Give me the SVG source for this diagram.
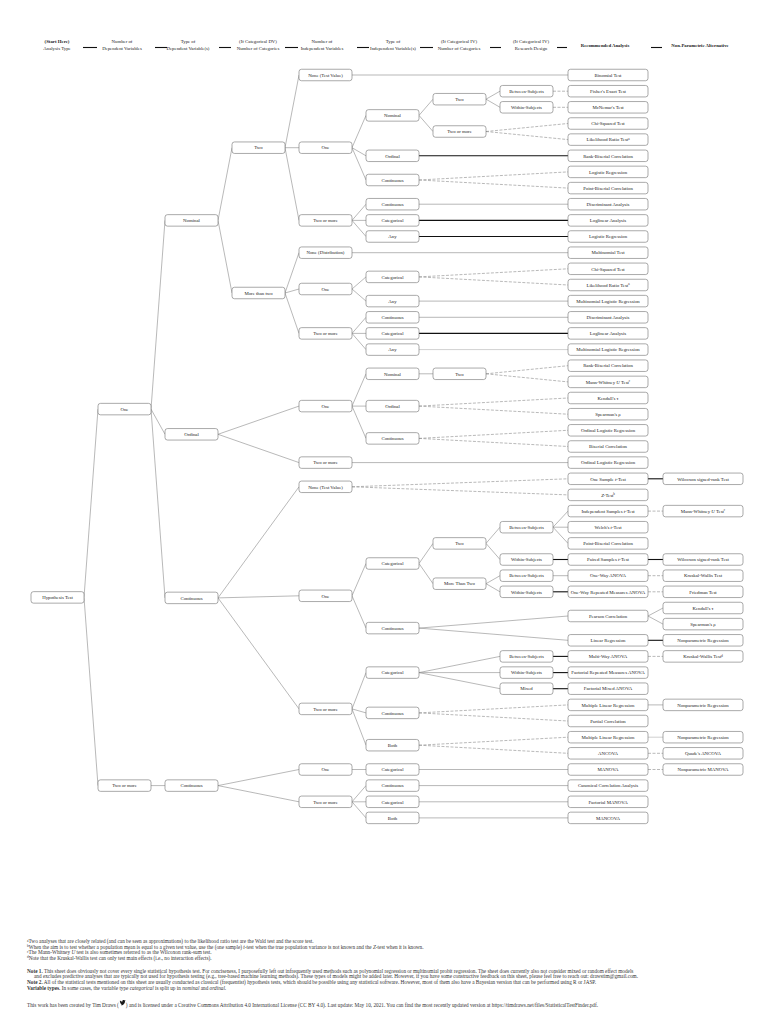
<svg xmlns="http://www.w3.org/2000/svg" width="768" height="1024" viewBox="0 0 768 1024">
<style>
.n text{font-family:"Liberation Serif","Times New Roman",serif;font-size:4.8px;fill:#222;text-anchor:middle}
.h text{font-family:"Liberation Serif","Times New Roman",serif;font-size:4.8px;fill:#222;text-anchor:middle}
.h line{stroke:#111;stroke-width:1.1}
.t{stroke:#8a8a8a;stroke-width:0.6;fill:none}
.g{stroke:#9a9a9a;stroke-width:0.7}
.lg{stroke:#c4c4c4;stroke-width:0.8}
.d{stroke:#8a8a8a;stroke-width:0.6;stroke-dasharray:3 1.5}
.k{stroke:#111;stroke-width:1.1}
.f text{font-family:"Liberation Serif","Times New Roman",serif;font-size:5.25px;fill:#333}
.b{font-weight:bold}
.i{font-style:italic}
</style>
<defs>
<rect id="bx" y="-5.75" width="53" height="11.5" rx="2.5" fill="#fff" stroke="#707070" stroke-width="0.6"/>
<rect id="bw" y="-5.75" width="80" height="11.5" rx="2.5" fill="#fff" stroke="#707070" stroke-width="0.6"/>
</defs>

<g id="header" class="h">
<text x="57" y="43"><tspan class="b">(Start Here)</tspan></text><text x="57" y="50">Analysis Type</text>
<text x="122" y="43">Number of</text><text x="122" y="50">Dependent Variables</text>
<text x="188" y="43">Type of</text><text x="188" y="50">Dependent Variable(s)</text>
<text x="258" y="43">(If Categorical DV)</text><text x="258" y="50">Number of Categories</text>
<text x="322" y="43">Number of</text><text x="322" y="50">Independent Variables</text>
<text x="393" y="43">Type of</text><text x="393" y="50">Independent Variable(s)</text>
<text x="459" y="43">(If Categorical IV)</text><text x="459" y="50">Number of Categories</text>
<text x="531" y="43">(If Categorical IV)</text><text x="531" y="50">Research Design</text>
<text x="605" y="47" class="b">Recommended Analysis</text>
<text x="700" y="47" class="b">Non-Parametric Alternative</text>
<line x1="83" y1="47.5" x2="97" y2="47.5"/><line x1="155" y1="47.5" x2="167" y2="47.5"/>
<line x1="219" y1="47.5" x2="231" y2="47.5"/><line x1="285" y1="47.5" x2="298" y2="47.5"/>
<line x1="357" y1="47.5" x2="369" y2="47.5"/><line x1="420" y1="47.5" x2="433" y2="47.5"/>
<line x1="490" y1="47.5" x2="501" y2="47.5"/><line x1="557" y1="47.5" x2="567" y2="47.5"/>
<line x1="651" y1="47.5" x2="662" y2="47.5"/>
</g>

<g id="connectors">
<line class="t" x1="84" y1="597.4" x2="98" y2="409.1"/>
<line class="t" x1="84" y1="597.4" x2="98" y2="785.6"/>
<line class="t" x1="151" y1="409.1" x2="165" y2="220.4"/>
<line class="t" x1="151" y1="409.1" x2="165" y2="434.3"/>
<line class="t" x1="151" y1="409.1" x2="165" y2="597.9"/>
<line class="t" x1="151" y1="785.6" x2="165" y2="785.6"/>
<line class="t" x1="218" y1="220.4" x2="232" y2="147.7"/>
<line class="t" x1="218" y1="220.4" x2="232" y2="293"/>
<line class="t" x1="218" y1="434.3" x2="299" y2="406.1"/>
<line class="t" x1="218" y1="434.3" x2="299" y2="462.6"/>
<line class="t" x1="218" y1="597.9" x2="299" y2="486.8"/>
<line class="t" x1="218" y1="597.9" x2="299" y2="595.8"/>
<line class="t" x1="218" y1="597.9" x2="299" y2="708.9"/>
<line class="t" x1="218" y1="785.6" x2="299" y2="769.5"/>
<line class="t" x1="218" y1="785.6" x2="299" y2="801.8"/>
<line class="t" x1="285" y1="147.7" x2="299" y2="75"/>
<line class="t" x1="285" y1="147.7" x2="299" y2="147.7"/>
<line class="t" x1="285" y1="147.7" x2="299" y2="220.4"/>
<line class="t" x1="285" y1="293" x2="299" y2="252.7"/>
<line class="t" x1="285" y1="293" x2="299" y2="289"/>
<line class="t" x1="285" y1="293" x2="299" y2="333.4"/>
<line class="t" x1="352" y1="147.7" x2="366" y2="115.4"/>
<line class="t" x1="352" y1="147.7" x2="366" y2="155.8"/>
<line class="t" x1="352" y1="147.7" x2="366" y2="180"/>
<line class="t" x1="352" y1="220.4" x2="366" y2="204.2"/>
<line class="t" x1="352" y1="220.4" x2="366" y2="220.4"/>
<line class="t" x1="352" y1="220.4" x2="366" y2="236.5"/>
<line class="t" x1="352" y1="289" x2="366" y2="276.9"/>
<line class="t" x1="352" y1="289" x2="366" y2="301.1"/>
<line class="t" x1="352" y1="333.4" x2="366" y2="317.3"/>
<line class="t" x1="352" y1="333.4" x2="366" y2="333.4"/>
<line class="t" x1="352" y1="333.4" x2="366" y2="349.6"/>
<line class="t" x1="352" y1="406.1" x2="366" y2="373.8"/>
<line class="t" x1="352" y1="406.1" x2="366" y2="406.1"/>
<line class="t" x1="352" y1="406.1" x2="366" y2="438.4"/>
<line class="t" x1="352" y1="595.8" x2="366" y2="563.5"/>
<line class="t" x1="352" y1="595.8" x2="366" y2="628.1"/>
<line class="t" x1="352" y1="708.9" x2="366" y2="672.6"/>
<line class="t" x1="352" y1="708.9" x2="366" y2="712.9"/>
<line class="t" x1="352" y1="708.9" x2="366" y2="745.2"/>
<line class="t" x1="352" y1="769.5" x2="366" y2="769.5"/>
<line class="t" x1="352" y1="801.8" x2="366" y2="785.6"/>
<line class="t" x1="352" y1="801.8" x2="366" y2="801.8"/>
<line class="t" x1="352" y1="801.8" x2="366" y2="817.9"/>
<line class="t" x1="419" y1="115.4" x2="433" y2="99.2"/>
<line class="t" x1="419" y1="115.4" x2="433" y2="131.5"/>
<line class="t" x1="486" y1="99.2" x2="500" y2="91.2"/>
<line class="t" x1="486" y1="99.2" x2="500" y2="107.3"/>
<line class="t" x1="419" y1="373.8" x2="433" y2="373.8"/>
<line class="t" x1="419" y1="563.5" x2="433" y2="543.4"/>
<line class="t" x1="419" y1="563.5" x2="433" y2="583.7"/>
<line class="t" x1="486" y1="543.4" x2="500" y2="527.2"/>
<line class="t" x1="486" y1="543.4" x2="500" y2="559.5"/>
<line class="t" x1="486" y1="583.7" x2="500" y2="575.7"/>
<line class="t" x1="486" y1="583.7" x2="500" y2="591.8"/>
<line class="t" x1="419" y1="672.6" x2="500" y2="656.4"/>
<line class="t" x1="419" y1="672.6" x2="500" y2="672.6"/>
<line class="t" x1="419" y1="672.6" x2="500" y2="688.7"/>
<line class="g" x1="352" y1="75" x2="568" y2="75"/>
<line class="d" x1="553" y1="91.2" x2="568" y2="91.2"/>
<line class="d" x1="553" y1="107.3" x2="568" y2="107.3"/>
<line class="d" x1="486" y1="131.5" x2="568" y2="123.5"/>
<line class="d" x1="486" y1="131.5" x2="568" y2="139.6"/>
<line class="k" x1="419" y1="155.8" x2="568" y2="155.8"/>
<line class="d" x1="419" y1="180" x2="568" y2="171.9"/>
<line class="d" x1="419" y1="180" x2="568" y2="188.1"/>
<line class="g" x1="419" y1="204.2" x2="568" y2="204.2"/>
<line class="k" x1="419" y1="220.4" x2="568" y2="220.4"/>
<line class="k" x1="419" y1="236.5" x2="568" y2="236.5"/>
<line class="g" x1="352" y1="252.7" x2="568" y2="252.7"/>
<line class="d" x1="419" y1="276.9" x2="568" y2="268.8"/>
<line class="d" x1="419" y1="276.9" x2="568" y2="285"/>
<line class="g" x1="419" y1="301.1" x2="568" y2="301.1"/>
<line class="g" x1="419" y1="317.3" x2="568" y2="317.3"/>
<line class="k" x1="419" y1="333.4" x2="568" y2="333.4"/>
<line class="lg" x1="419" y1="349.6" x2="568" y2="349.6"/>
<line class="d" x1="486" y1="373.8" x2="568" y2="365.7"/>
<line class="d" x1="486" y1="373.8" x2="568" y2="381.9"/>
<line class="d" x1="419" y1="406.1" x2="568" y2="398"/>
<line class="d" x1="419" y1="406.1" x2="568" y2="414.2"/>
<line class="d" x1="419" y1="438.4" x2="568" y2="430.3"/>
<line class="d" x1="419" y1="438.4" x2="568" y2="446.5"/>
<line class="g" x1="352" y1="462.6" x2="568" y2="462.6"/>
<line class="d" x1="352" y1="486.8" x2="568" y2="478.8"/>
<line class="d" x1="352" y1="486.8" x2="568" y2="494.9"/>
<line class="t" x1="553" y1="527.2" x2="568" y2="511.1"/>
<line class="t" x1="553" y1="527.2" x2="568" y2="527.2"/>
<line class="t" x1="553" y1="527.2" x2="568" y2="543.4"/>
<line class="k" x1="553" y1="559.5" x2="568" y2="559.5"/>
<line class="g" x1="553" y1="575.7" x2="568" y2="575.7"/>
<line class="k" x1="553" y1="591.8" x2="568" y2="591.8"/>
<line class="t" x1="419" y1="628.1" x2="568" y2="616"/>
<line class="t" x1="419" y1="628.1" x2="568" y2="640.3"/>
<line class="k" x1="553" y1="656.4" x2="568" y2="656.4"/>
<line class="k" x1="553" y1="672.6" x2="568" y2="672.6"/>
<line class="k" x1="553" y1="688.7" x2="568" y2="688.7"/>
<line class="d" x1="419" y1="712.9" x2="568" y2="704.9"/>
<line class="d" x1="419" y1="712.9" x2="568" y2="721"/>
<line class="d" x1="419" y1="745.2" x2="568" y2="737.2"/>
<line class="d" x1="419" y1="745.2" x2="568" y2="753.3"/>
<line class="g" x1="419" y1="769.5" x2="568" y2="769.5"/>
<line class="g" x1="419" y1="785.6" x2="568" y2="785.6"/>
<line class="g" x1="419" y1="801.8" x2="568" y2="801.8"/>
<line class="g" x1="419" y1="817.9" x2="568" y2="817.9"/>
<line class="k" x1="648" y1="478.8" x2="663" y2="478.8"/>
<line class="d" x1="648" y1="511.1" x2="663" y2="511.1"/>
<line class="k" x1="648" y1="559.5" x2="663" y2="559.5"/>
<line class="d" x1="648" y1="575.7" x2="663" y2="575.7"/>
<line class="d" x1="648" y1="591.8" x2="663" y2="591.8"/>
<line class="t" x1="648" y1="616" x2="663" y2="608"/>
<line class="t" x1="648" y1="616" x2="663" y2="624.1"/>
<line class="k" x1="648" y1="640.3" x2="663" y2="640.3"/>
<line class="d" x1="648" y1="656.4" x2="663" y2="656.4"/>
<line class="g" x1="648" y1="704.9" x2="663" y2="704.9"/>
<line class="lg" x1="648" y1="737.2" x2="663" y2="737.2"/>
<line class="d" x1="648" y1="753.3" x2="663" y2="753.3"/>
<line class="d" x1="648" y1="769.5" x2="663" y2="769.5"/>
</g>

<g id="ht" class="n" transform="translate(31,597.4)"><use href="#bx"/><text x="26.5" y="1.7">Hypothesis Test</text></g>
<g id="dv_one" class="n" transform="translate(98,409.1)"><use href="#bx"/><text x="26.5" y="1.7">One</text></g>
<g id="dv_two" class="n" transform="translate(98,785.6)"><use href="#bx"/><text x="26.5" y="1.7">Two or more</text></g>
<g id="nom" class="n" transform="translate(165,220.4)"><use href="#bx"/><text x="26.5" y="1.7">Nominal</text></g>
<g id="ord" class="n" transform="translate(165,434.3)"><use href="#bx"/><text x="26.5" y="1.7">Ordinal</text></g>
<g id="con" class="n" transform="translate(165,597.9)"><use href="#bx"/><text x="26.5" y="1.7">Continuous</text></g>
<g id="con2" class="n" transform="translate(165,785.6)"><use href="#bx"/><text x="26.5" y="1.7">Continuous</text></g>
<g id="cat_two" class="n" transform="translate(232,147.7)"><use href="#bx"/><text x="26.5" y="1.7">Two</text></g>
<g id="cat_mtt" class="n" transform="translate(232,293)"><use href="#bx"/><text x="26.5" y="1.7">More than two</text></g>
<g id="a_none" class="n" transform="translate(299,75)"><use href="#bx"/><text x="26.5" y="1.7">None (Test Value)</text></g>
<g id="a_one" class="n" transform="translate(299,147.7)"><use href="#bx"/><text x="26.5" y="1.7">One</text></g>
<g id="a_tom" class="n" transform="translate(299,220.4)"><use href="#bx"/><text x="26.5" y="1.7">Two or more</text></g>
<g id="b_none" class="n" transform="translate(299,252.7)"><use href="#bx"/><text x="26.5" y="1.7">None (Distribution)</text></g>
<g id="b_one" class="n" transform="translate(299,289)"><use href="#bx"/><text x="26.5" y="1.7">One</text></g>
<g id="b_tom" class="n" transform="translate(299,333.4)"><use href="#bx"/><text x="26.5" y="1.7">Two or more</text></g>
<g id="c_one" class="n" transform="translate(299,406.1)"><use href="#bx"/><text x="26.5" y="1.7">One</text></g>
<g id="c_tom" class="n" transform="translate(299,462.6)"><use href="#bx"/><text x="26.5" y="1.7">Two or more</text></g>
<g id="d_none" class="n" transform="translate(299,486.8)"><use href="#bx"/><text x="26.5" y="1.7">None (Test Value)</text></g>
<g id="d_one" class="n" transform="translate(299,595.8)"><use href="#bx"/><text x="26.5" y="1.7">One</text></g>
<g id="d_tom" class="n" transform="translate(299,708.9)"><use href="#bx"/><text x="26.5" y="1.7">Two or more</text></g>
<g id="e_one" class="n" transform="translate(299,769.5)"><use href="#bx"/><text x="26.5" y="1.7">One</text></g>
<g id="e_tom" class="n" transform="translate(299,801.8)"><use href="#bx"/><text x="26.5" y="1.7">Two or more</text></g>
<g id="a_nom" class="n" transform="translate(366,115.4)"><use href="#bx"/><text x="26.5" y="1.7">Nominal</text></g>
<g id="a_ord" class="n" transform="translate(366,155.8)"><use href="#bx"/><text x="26.5" y="1.7">Ordinal</text></g>
<g id="a_con" class="n" transform="translate(366,180)"><use href="#bx"/><text x="26.5" y="1.7">Continuous</text></g>
<g id="a2_con" class="n" transform="translate(366,204.2)"><use href="#bx"/><text x="26.5" y="1.7">Continuous</text></g>
<g id="a2_cat" class="n" transform="translate(366,220.4)"><use href="#bx"/><text x="26.5" y="1.7">Categorical</text></g>
<g id="a2_any" class="n" transform="translate(366,236.5)"><use href="#bx"/><text x="26.5" y="1.7">Any</text></g>
<g id="b_cat" class="n" transform="translate(366,276.9)"><use href="#bx"/><text x="26.5" y="1.7">Categorical</text></g>
<g id="b_any" class="n" transform="translate(366,301.1)"><use href="#bx"/><text x="26.5" y="1.7">Any</text></g>
<g id="b2_con" class="n" transform="translate(366,317.3)"><use href="#bx"/><text x="26.5" y="1.7">Continuous</text></g>
<g id="b2_cat" class="n" transform="translate(366,333.4)"><use href="#bx"/><text x="26.5" y="1.7">Categorical</text></g>
<g id="b2_any" class="n" transform="translate(366,349.6)"><use href="#bx"/><text x="26.5" y="1.7">Any</text></g>
<g id="c_nom" class="n" transform="translate(366,373.8)"><use href="#bx"/><text x="26.5" y="1.7">Nominal</text></g>
<g id="c_ord" class="n" transform="translate(366,406.1)"><use href="#bx"/><text x="26.5" y="1.7">Ordinal</text></g>
<g id="c_con" class="n" transform="translate(366,438.4)"><use href="#bx"/><text x="26.5" y="1.7">Continuous</text></g>
<g id="d_cat" class="n" transform="translate(366,563.5)"><use href="#bx"/><text x="26.5" y="1.7">Categorical</text></g>
<g id="d_con" class="n" transform="translate(366,628.1)"><use href="#bx"/><text x="26.5" y="1.7">Continuous</text></g>
<g id="d2_cat" class="n" transform="translate(366,672.6)"><use href="#bx"/><text x="26.5" y="1.7">Categorical</text></g>
<g id="d2_con" class="n" transform="translate(366,712.9)"><use href="#bx"/><text x="26.5" y="1.7">Continuous</text></g>
<g id="d2_both" class="n" transform="translate(366,745.2)"><use href="#bx"/><text x="26.5" y="1.7">Both</text></g>
<g id="e_cat" class="n" transform="translate(366,769.5)"><use href="#bx"/><text x="26.5" y="1.7">Categorical</text></g>
<g id="e2_con" class="n" transform="translate(366,785.6)"><use href="#bx"/><text x="26.5" y="1.7">Continuous</text></g>
<g id="e2_cat" class="n" transform="translate(366,801.8)"><use href="#bx"/><text x="26.5" y="1.7">Categorical</text></g>
<g id="e2_both" class="n" transform="translate(366,817.9)"><use href="#bx"/><text x="26.5" y="1.7">Both</text></g>
<g id="a_two" class="n" transform="translate(433,99.2)"><use href="#bx"/><text x="26.5" y="1.7">Two</text></g>
<g id="a_tom6" class="n" transform="translate(433,131.5)"><use href="#bx"/><text x="26.5" y="1.7">Two or more</text></g>
<g id="c_two" class="n" transform="translate(433,373.8)"><use href="#bx"/><text x="26.5" y="1.7">Two</text></g>
<g id="d_two" class="n" transform="translate(433,543.4)"><use href="#bx"/><text x="26.5" y="1.7">Two</text></g>
<g id="d_mtt" class="n" transform="translate(433,583.7)"><use href="#bx"/><text x="26.5" y="1.7">More Than Two</text></g>
<g id="a_bs" class="n" transform="translate(500,91.2)"><use href="#bx"/><text x="26.5" y="1.7">Between-Subjects</text></g>
<g id="a_ws" class="n" transform="translate(500,107.3)"><use href="#bx"/><text x="26.5" y="1.7">Within-Subjects</text></g>
<g id="d_bs" class="n" transform="translate(500,527.2)"><use href="#bx"/><text x="26.5" y="1.7">Between-Subjects</text></g>
<g id="d_ws" class="n" transform="translate(500,559.5)"><use href="#bx"/><text x="26.5" y="1.7">Within-Subjects</text></g>
<g id="d_bs2" class="n" transform="translate(500,575.7)"><use href="#bx"/><text x="26.5" y="1.7">Between-Subjects</text></g>
<g id="d_ws2" class="n" transform="translate(500,591.8)"><use href="#bx"/><text x="26.5" y="1.7">Within-Subjects</text></g>
<g id="d2_bs" class="n" transform="translate(500,656.4)"><use href="#bx"/><text x="26.5" y="1.7">Between-Subjects</text></g>
<g id="d2_ws" class="n" transform="translate(500,672.6)"><use href="#bx"/><text x="26.5" y="1.7">Within-Subjects</text></g>
<g id="d2_mx" class="n" transform="translate(500,688.7)"><use href="#bx"/><text x="26.5" y="1.7">Mixed</text></g>

<g id="r0" class="n" transform="translate(568,75)"><use href="#bw"/><text x="40" y="1.7">Binomial Test</text></g>
<g id="r1" class="n" transform="translate(568,91.2)"><use href="#bw"/><text x="40" y="1.7">Fisher's Exact Test</text></g>
<g id="r2" class="n" transform="translate(568,107.3)"><use href="#bw"/><text x="40" y="1.7">McNemar's Test</text></g>
<g id="r3" class="n" transform="translate(568,123.5)"><use href="#bw"/><text x="40" y="1.7">Chi-Squared Test</text></g>
<g id="r4" class="n" transform="translate(568,139.6)"><use href="#bw"/><text x="40" y="1.7">Likelihood Ratio Test<tspan font-size="3" dy="-1.5">a</tspan></text></g>
<g id="r5" class="n" transform="translate(568,155.8)"><use href="#bw"/><text x="40" y="1.7">Rank-Biserial Correlation</text></g>
<g id="r6" class="n" transform="translate(568,171.9)"><use href="#bw"/><text x="40" y="1.7">Logistic Regression</text></g>
<g id="r7" class="n" transform="translate(568,188.1)"><use href="#bw"/><text x="40" y="1.7">Point-Biserial Correlation</text></g>
<g id="r8" class="n" transform="translate(568,204.2)"><use href="#bw"/><text x="40" y="1.7">Discriminant Analysis</text></g>
<g id="r9" class="n" transform="translate(568,220.4)"><use href="#bw"/><text x="40" y="1.7">Loglinear Analysis</text></g>
<g id="r10" class="n" transform="translate(568,236.5)"><use href="#bw"/><text x="40" y="1.7">Logistic Regression</text></g>
<g id="r11" class="n" transform="translate(568,252.7)"><use href="#bw"/><text x="40" y="1.7">Multinomial Test</text></g>
<g id="r12" class="n" transform="translate(568,268.8)"><use href="#bw"/><text x="40" y="1.7">Chi-Squared Test</text></g>
<g id="r13" class="n" transform="translate(568,285)"><use href="#bw"/><text x="40" y="1.7">Likelihood Ratio Test<tspan font-size="3" dy="-1.5">a</tspan></text></g>
<g id="r14" class="n" transform="translate(568,301.1)"><use href="#bw"/><text x="40" y="1.7">Multinomial Logistic Regression</text></g>
<g id="r15" class="n" transform="translate(568,317.3)"><use href="#bw"/><text x="40" y="1.7">Discriminant Analysis</text></g>
<g id="r16" class="n" transform="translate(568,333.4)"><use href="#bw"/><text x="40" y="1.7">Loglinear Analysis</text></g>
<g id="r17" class="n" transform="translate(568,349.6)"><use href="#bw"/><text x="40" y="1.7">Multinomial Logistic Regression</text></g>
<g id="r18" class="n" transform="translate(568,365.7)"><use href="#bw"/><text x="40" y="1.7">Rank-Biserial Correlation</text></g>
<g id="r19" class="n" transform="translate(568,381.9)"><use href="#bw"/><text x="40" y="1.7">Mann-Whitney <tspan class="i">U</tspan> Test<tspan font-size="3" dy="-1.5">c</tspan></text></g>
<g id="r20" class="n" transform="translate(568,398)"><use href="#bw"/><text x="40" y="1.7">Kendall's τ</text></g>
<g id="r21" class="n" transform="translate(568,414.2)"><use href="#bw"/><text x="40" y="1.7">Spearman's ρ</text></g>
<g id="r22" class="n" transform="translate(568,430.3)"><use href="#bw"/><text x="40" y="1.7">Ordinal Logistic Regression</text></g>
<g id="r23" class="n" transform="translate(568,446.5)"><use href="#bw"/><text x="40" y="1.7">Biserial Correlation</text></g>
<g id="r24" class="n" transform="translate(568,462.6)"><use href="#bw"/><text x="40" y="1.7">Ordinal Logistic Regression</text></g>
<g id="r25" class="n" transform="translate(568,478.8)"><use href="#bw"/><text x="40" y="1.7">One Sample <tspan class="i">t</tspan>-Test</text></g>
<g id="r26" class="n" transform="translate(568,494.9)"><use href="#bw"/><text x="40" y="1.7"><tspan class="i">Z</tspan>-Test<tspan font-size="3" dy="-1.5">b</tspan></text></g>
<g id="r27" class="n" transform="translate(568,511.1)"><use href="#bw"/><text x="40" y="1.7">Independent Samples <tspan class="i">t</tspan>-Test</text></g>
<g id="r28" class="n" transform="translate(568,527.2)"><use href="#bw"/><text x="40" y="1.7">Welch's <tspan class="i">t</tspan>-Test</text></g>
<g id="r29" class="n" transform="translate(568,543.4)"><use href="#bw"/><text x="40" y="1.7">Point-Biserial Correlation</text></g>
<g id="r30" class="n" transform="translate(568,559.5)"><use href="#bw"/><text x="40" y="1.7">Paired Samples <tspan class="i">t</tspan>-Test</text></g>
<g id="r31" class="n" transform="translate(568,575.7)"><use href="#bw"/><text x="40" y="1.7">One-Way ANOVA</text></g>
<g id="r32" class="n" transform="translate(568,591.8)"><use href="#bw"/><text x="40" y="1.7">One-Way Repeated Measures ANOVA</text></g>
<g id="r33" class="n" transform="translate(568,616)"><use href="#bw"/><text x="40" y="1.7">Pearson Correlation</text></g>
<g id="r35" class="n" transform="translate(568,640.3)"><use href="#bw"/><text x="40" y="1.7">Linear Regression</text></g>
<g id="r36" class="n" transform="translate(568,656.4)"><use href="#bw"/><text x="40" y="1.7">Multi-Way ANOVA</text></g>
<g id="r37" class="n" transform="translate(568,672.6)"><use href="#bw"/><text x="40" y="1.7">Factorial Repeated Measures ANOVA</text></g>
<g id="r38" class="n" transform="translate(568,688.7)"><use href="#bw"/><text x="40" y="1.7">Factorial Mixed ANOVA</text></g>
<g id="r39" class="n" transform="translate(568,704.9)"><use href="#bw"/><text x="40" y="1.7">Multiple Linear Regression</text></g>
<g id="r40" class="n" transform="translate(568,721)"><use href="#bw"/><text x="40" y="1.7">Partial Correlation</text></g>
<g id="r41" class="n" transform="translate(568,737.2)"><use href="#bw"/><text x="40" y="1.7">Multiple Linear Regression</text></g>
<g id="r42" class="n" transform="translate(568,753.3)"><use href="#bw"/><text x="40" y="1.7">ANCOVA</text></g>
<g id="r43" class="n" transform="translate(568,769.5)"><use href="#bw"/><text x="40" y="1.7">MANOVA</text></g>
<g id="r44" class="n" transform="translate(568,785.6)"><use href="#bw"/><text x="40" y="1.7">Canonical Correlation Analysis</text></g>
<g id="r45" class="n" transform="translate(568,801.8)"><use href="#bw"/><text x="40" y="1.7">Factorial MANOVA</text></g>
<g id="r46" class="n" transform="translate(568,817.9)"><use href="#bw"/><text x="40" y="1.7">MANCOVA</text></g>

<g id="alt25" class="n" transform="translate(663,478.8)"><use href="#bw"/><text x="40" y="1.7">Wilcoxon signed-rank Test</text></g>
<g id="alt27" class="n" transform="translate(663,511.1)"><use href="#bw"/><text x="40" y="1.7">Mann-Whitney <tspan class="i">U</tspan> Test<tspan font-size="3" dy="-1.5">c</tspan></text></g>
<g id="alt30" class="n" transform="translate(663,559.5)"><use href="#bw"/><text x="40" y="1.7">Wilcoxon signed-rank Test</text></g>
<g id="alt31" class="n" transform="translate(663,575.7)"><use href="#bw"/><text x="40" y="1.7">Kruskal-Wallis Test</text></g>
<g id="alt32" class="n" transform="translate(663,591.8)"><use href="#bw"/><text x="40" y="1.7">Friedman Test</text></g>
<g id="alt33" class="n" transform="translate(663,608)"><use href="#bw"/><text x="40" y="1.7">Kendall's τ</text></g>
<g id="alt34" class="n" transform="translate(663,624.1)"><use href="#bw"/><text x="40" y="1.7">Spearman's ρ</text></g>
<g id="alt35" class="n" transform="translate(663,640.3)"><use href="#bw"/><text x="40" y="1.7">Nonparametric Regression</text></g>
<g id="alt36" class="n" transform="translate(663,656.4)"><use href="#bw"/><text x="40" y="1.7">Kruskal-Wallis Test<tspan font-size="3" dy="-1.5">d</tspan></text></g>
<g id="alt39" class="n" transform="translate(663,704.9)"><use href="#bw"/><text x="40" y="1.7">Nonparametric Regression</text></g>
<g id="alt41" class="n" transform="translate(663,737.2)"><use href="#bw"/><text x="40" y="1.7">Nonparametric Regression</text></g>
<g id="alt42" class="n" transform="translate(663,753.3)"><use href="#bw"/><text x="40" y="1.7">Quade's ANCOVA</text></g>
<g id="alt43" class="n" transform="translate(663,769.5)"><use href="#bw"/><text x="40" y="1.7">Nonparametric MANOVA</text></g>

<g id="footnotes" class="f">
<text x="27" y="943"><tspan font-size="3.4" dy="-1.4">a</tspan><tspan dy="1.4">Two analyses that are closely related (and can be seen as approximations) to the likelihood ratio test are the Wald test and the score test.</tspan></text>
<text x="27" y="948.5"><tspan font-size="3.4" dy="-1.4">b</tspan><tspan dy="1.4">When the aim is to test whether a population mean is equal to a given test value, use the (one sample) </tspan><tspan class="i">t</tspan>-test when the true population variance is not known and the <tspan class="i">Z</tspan>-test when it is known.</text>
<text x="27" y="954"><tspan font-size="3.4" dy="-1.4">c</tspan><tspan dy="1.4">The Mann-Whitney </tspan><tspan class="i">U</tspan> test is also sometimes referred to as the Wilcoxon rank-sum test.</text>
<text x="27" y="959.5"><tspan font-size="3.4" dy="-1.4">d</tspan><tspan dy="1.4">Note that the Kruskal-Wallis test can only test main effects (i.e., no interaction effects).</tspan></text>
<text x="27" y="972.5"><tspan class="b">Note 1.</tspan> This sheet does obviously not cover every single statistical hypothesis test. For conciseness, I purposefully left out infrequently used methods such as polynomial regression or multinomial probit regression. The sheet does currently also not consider mixed or random effect models</text>
<text x="34" y="978">and excludes predictive analyses that are typically not used for hypothesis testing (e.g., tree-based machine learning methods). These types of models might be added later. However, if you have some constructive feedback on this sheet, please feel free to reach out: drawstim@gmail.com.</text>
<text x="27" y="984"><tspan class="b">Note 2.</tspan> All of the statistical tests mentioned on this sheet are usually conducted as classical (frequentist) hypothesis tests, which should be possible using any statistical software. However, most of them also have a Bayesian version that can be performed using R or JASP.</text>
<text x="27" y="989.5"><tspan class="b">Variable types.</tspan> In some cases, the variable type <tspan class="i">categorical</tspan> is split up in <tspan class="i">nominal</tspan> and <tspan class="i">ordinal</tspan>.</text>
<text x="27" y="1007">This work has been created by Tim Draws (<tspan dx="7">) and is licensed under a Creative Commons Attribution 4.0 International License (CC BY 4.0). Last update: May 10, 2021. You can find the most recently updated version at https://timdraws.net/files/StatisticalTestFinder.pdf.</tspan></text>
<path id="twitter-icon" transform="translate(11.2,0)" d="M109.6,1005.2 C111.2,1005.4 112.6,1004.6 113.3,1003.2 C113.7,1002.5 113.8,1001.8 113.8,1001.2 L114.5,1000.6 L113.7,1000.8 L114.3,1000.1 L113.5,1000.4 C113,999.8 112,999.8 111.5,1000.3 C111.1,1000.7 111,1001.2 111.1,1001.7 C110.2,1001.6 109.4,1001.2 108.8,1000.5 C108.5,1001.2 108.7,1002 109.3,1002.4 L108.8,1002.3 C108.8,1002.9 109.3,1003.4 109.8,1003.6 L109.2,1003.6 C109.4,1004.1 109.9,1004.4 110.5,1004.4 C110.2,1004.8 109.9,1005.1 109.6,1005.2 Z" fill="#1a1a1a"/>
</g>
</svg>
